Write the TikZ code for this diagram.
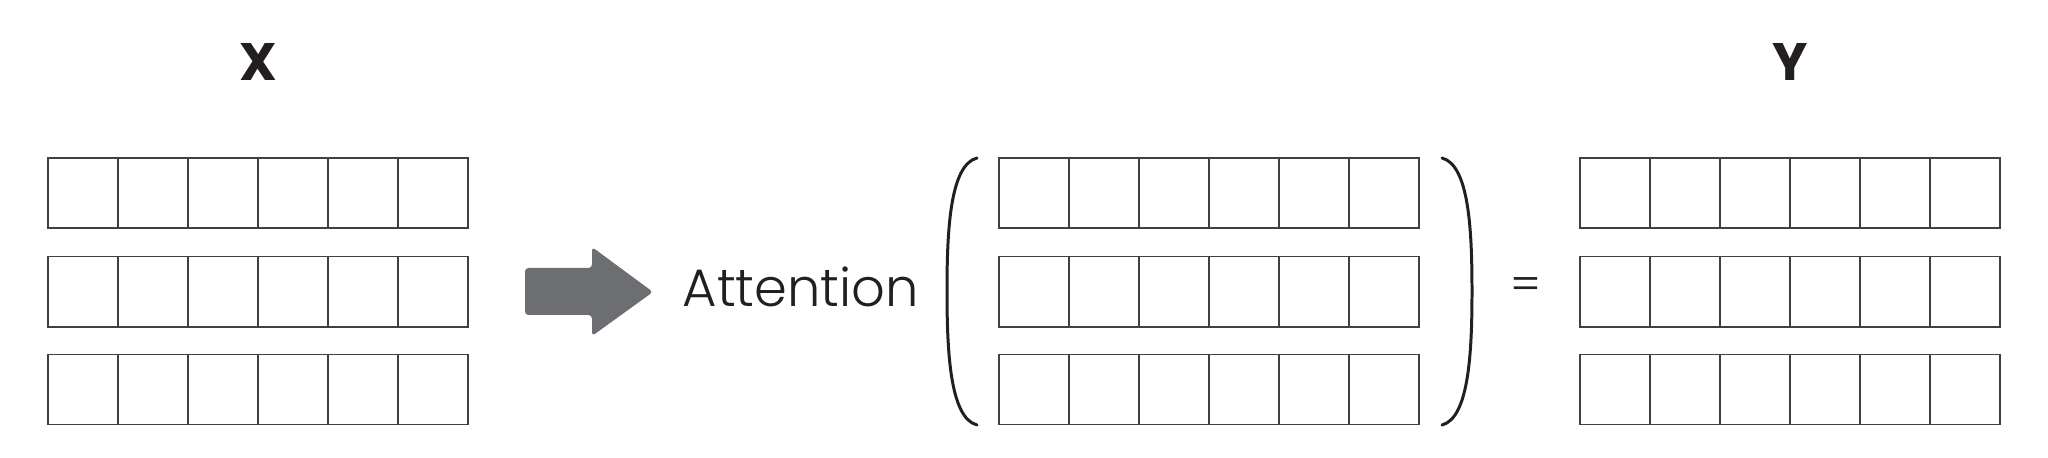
\documentclass[tikz,border=0pt]{standalone}
\usepackage{fontspec}
\setmainfont{Poppins}
\newfontfamily\thinfont{Poppins Light}
\usepackage{tikz}
\usetikzlibrary{positioning}

\definecolor{gridline}{HTML}{404042}
\definecolor{inkdark}{HTML}{231F20}
\definecolor{arrowgray}{HTML}{6D6E71}

\tikzset{
  cell/.style={draw=gridline, line width=0.45pt, minimum width=0.7cm,
    minimum height=0.7cm, inner sep=0pt, outer sep=0pt, anchor=north west},
  bigletter/.style={text=inkdark, font=\bfseries\fontsize{15}{15}\selectfont, inner sep=0pt},
  fnlabel/.style={text=inkdark, font=\thinfont\fontsize{15}{15}\selectfont, inner sep=0pt, anchor=base west},
  paren/.style={draw=inkdark, line width=0.85pt, line cap=round}
}

\begin{document}
\begin{tikzpicture}[x=0.01cm, y=-0.01cm]
  \useasboundingbox (0,0) rectangle (2048,458);

  % Three 3x6 matrices: X, the argument of Attention, and Y
  \foreach \g/\xs in {xm/48, am/999, ym/1580}
    \foreach \r/\ys in {1/158, 2/256.7, 3/354.3}
      \foreach \c in {1,...,6}
        \node[cell] (\g-\r-\c) at ({\xs+70*(\c-1)}, \ys) {};

  % Labels
  \node[bigletter] (xlabel) at (258, 62) {X};
  \node[bigletter] (ylabel) at (1790, 62) {Y};

  % Block arrow
  \coordinate (a1) at (525, 268);
  \coordinate (a2) at (592, 268);
  \coordinate (a3) at (592, 247);
  \coordinate (a4) at (653, 292);
  \coordinate (a5) at (592, 336);
  \coordinate (a6) at (592, 315);
  \coordinate (a7) at (525, 315);
  \fill[arrowgray, rounded corners=1pt] (a1) -- (a2) -- (a3) -- (a4) -- (a5) -- (a6) -- (a7) -- cycle;

  \node[fnlabel] (attn) at (682, 307) {Attention};

  % Parentheses round the argument
  \draw[paren] (977,158) .. controls (950,165) and (947,230) .. (947,291)
    .. controls (947,352) and (950,418) .. (977,425);
  \draw[paren] (1442,158) .. controls (1469,165) and (1472,230) .. (1472,291)
    .. controls (1472,352) and (1469,418) .. (1442,425);

  \node[text=inkdark, font=\thinfont\fontsize{13}{13}\selectfont, inner sep=0pt] (eq) at (1526, 289) {=};
\end{tikzpicture}
\end{document}
